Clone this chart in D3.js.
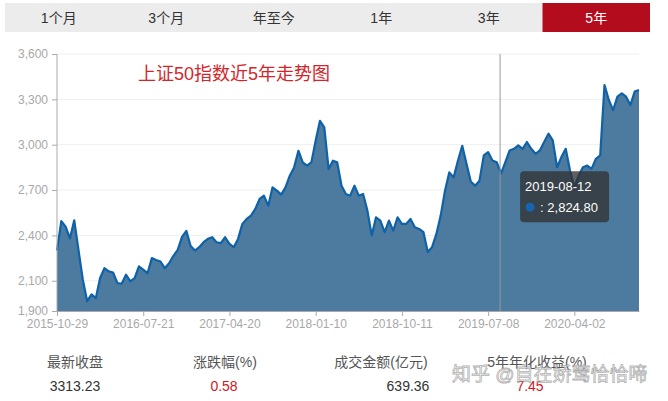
<!DOCTYPE html>
<html>
<head>
<meta charset="utf-8">
<script src="https://cdn.jsdelivr.net/npm/d3@7/dist/d3.min.js"></script>
<style>
  body { margin: 0; background: #fff; }
  svg { display: block; font-family: "Liberation Sans", "Noto Sans CJK SC", sans-serif; }
</style>
</head>
<body>
<div id="vis"></div>
<script>
// ---- data ----
var tabs = ["1个月", "3个月", "年至今", "1年", "3年", "5年"];
var activeTab = 5;
var title = "上证50指数近5年走势图";
var tickLabels = ["2015-10-29", "2016-07-21", "2017-04-20", "2018-01-10", "2018-10-11", "2019-07-08", "2020-04-02"];
var yTicks = [1900, 2100, 2400, 2700, 3000, 3300, 3600];
var STEP = 9;        // trading days between samples
var TICK_DAYS = 180; // trading days between date labels
var closes = [
  2300, 2495, 2458, 2380, 2500, 2300, 2105, 1965, 2010, 1985,
  2118, 2183, 2162, 2155, 2085, 2080, 2140, 2096, 2118, 2195,
  2173, 2150, 2250, 2238, 2227, 2183, 2216, 2265, 2304, 2390,
  2430, 2330, 2300, 2322, 2355, 2377, 2388, 2355, 2349, 2388,
  2344, 2322, 2377, 2476, 2509, 2531, 2575, 2641, 2663, 2597,
  2718, 2696, 2670, 2718, 2795, 2850, 2960, 2883, 2861, 2883,
  3026, 3158, 3114, 2840, 2894, 2883, 2729, 2674, 2663, 2729,
  2663, 2674, 2564, 2400, 2520, 2498, 2421, 2498, 2432, 2520,
  2476, 2476, 2509, 2454, 2443, 2421, 2290, 2322, 2410, 2531,
  2696, 2817, 2784, 2894, 2993, 2872, 2755, 2729, 2762, 2929,
  2951, 2896, 2884, 2810, 2884, 2962, 2973, 2996, 2973, 3018,
  2973, 2940, 2962, 3018, 3073, 3029, 2851, 2918, 2973, 2829,
  2720, 2796, 2851, 2862, 2840, 2907, 2929, 3395, 3296, 3229,
  3318, 3340, 3318, 3262, 3351, 3362
];
var tipDate = "2019-08-12", tipDay = 925, tipValue = 2824.80;
var statLabels = ["最新收盘", "涨跌幅(%)", "成交金额(亿元)", "5年年化收益(%)"];
var statValues = ["3313.23", "0.58", "639.36", "7.45"];
var statRed = [false, true, false, true];
var watermark = "知乎 @自在娇莺恰恰啼";

var width = 668, height = 401;
var plot = { left: 57, right: 639, top: 54, bottom: 311 };

var svg = d3.select("#vis").append("svg")
  .attr("width", width)
  .attr("height", height);

////////// tabs //////////
var tabX = d3.scaleBand().domain(d3.range(tabs.length)).range([5, 650]);
svg.append("rect").attr("x", 5).attr("y", 3).attr("width", 645).attr("height", 29).attr("fill", "#ececec");
svg.selectAll(".tab").data(tabs).enter().append("rect")
  .attr("x", function (d, i) { return tabX(i); })
  .attr("y", 3)
  .attr("width", tabX.bandwidth())
  .attr("height", 29)
  .attr("fill", function (d, i) { return i == activeTab ? "#b30d1d" : "none"; });
svg.selectAll(".tabtxt").data(tabs).enter().append("text")
  .attr("x", function (d, i) { return tabX(i) + tabX.bandwidth() / 2; })
  .attr("y", 23)
  .attr("text-anchor", "middle")
  .style("font-size", "14px")
  .style("fill", function (d, i) { return i == activeTab ? "#fff" : "#333"; })
  .text(function (d) { return d; });

////////// chart //////////
var x = d3.scaleLinear()
  .domain([0, (closes.length - 1) * STEP])
  .range([plot.left, plot.right]);
var y = d3.scaleLinear()
  .domain([1900, 3600])
  .range([plot.bottom, plot.top]);

var g = svg.append("g");

g.selectAll(".grid").data(yTicks.slice(1)).enter().append("line")
  .attr("x1", x.range()[0]).attr("x2", x.range()[1])
  .attr("y1", y).attr("y2", y)
  .attr("stroke", "#efefef");

var area = d3.area()
  .x(function (d, i) { return x(i * STEP); })
  .y0(y(1900))
  .y1(function (d) { return y(d); });
var line = d3.line()
  .x(function (d, i) { return x(i * STEP); })
  .y(function (d) { return y(d); });

g.append("path").datum(closes).attr("d", area).attr("fill", "#4c7b9f");
g.append("path").datum(closes).attr("d", line)
  .attr("fill", "none").attr("stroke", "#0f62a8").attr("stroke-width", 2.2).attr("stroke-linejoin", "round");

// axes
var yAxis = d3.axisLeft(y).tickValues(yTicks).tickFormat(d3.format(",")).tickSize(5).tickPadding(4);
var yg = g.append("g").attr("transform", "translate(" + x.range()[0] + ",0)").call(yAxis);
var xAxis = d3.axisBottom(x)
  .tickValues(tickLabels.map(function (d, i) { return i * TICK_DAYS; }))
  .tickFormat(function (d, i) { return tickLabels[i]; })
  .tickSize(5).tickPadding(3).tickSizeOuter(0);
var xg = g.append("g").attr("transform", "translate(0," + y(1900) + ")").call(xAxis);
[yg, xg].forEach(function (a) {
  a.select(".domain").attr("stroke", "#aaa");
  a.selectAll(".tick line").attr("stroke", "#aaa");
  a.selectAll("text").style("fill", "#a8a8a8").style("font-size", "12px").style("font-family", "inherit");
});
yg.select(".domain").attr("d", "M0," + y(1900) + "V" + y(3600));

// title
svg.append("text").attr("x", 138).attr("y", 80)
  .style("font-size", "18px").style("fill", "#d3262b")
  .text(title);

// crosshair + tooltip
var cx = x(tipDay), cy = y(tipValue);
g.append("line").attr("x1", cx).attr("x2", cx).attr("y1", y(3600)).attr("y2", y(1900))
  .attr("stroke", "#999").attr("stroke-width", 1);
var tip = svg.append("g").attr("transform", "translate(" + (cx + 20) + "," + cy + ")");
tip.append("rect").attr("width", 89).attr("height", 51).attr("rx", 4)
  .attr("fill", "rgba(50,50,50,0.78)");
tip.append("text").attr("x", 5).attr("y", 20).style("fill", "#fff").style("font-size", "13px").text(tipDate);
tip.append("circle").attr("cx", 10).attr("cy", 36).attr("r", 4.5).attr("fill", "#1565b0");
tip.append("text").attr("x", 20).attr("y", 41).style("fill", "#fff").style("font-size", "13px")
  .text(": " + d3.format(",.2f")(tipValue));

////////// stats //////////
var labelX = [75, 225, 381, 537];
var valueX = [75, 224, 408, 530];
svg.selectAll(".slab").data(statLabels).enter().append("text")
  .attr("x", function (d, i) { return labelX[i]; })
  .attr("y", 367).attr("text-anchor", "middle")
  .style("font-size", "14px").style("fill", "#555")
  .text(function (d) { return d; });
svg.selectAll(".sval").data(statValues).enter().append("text")
  .attr("x", function (d, i) { return valueX[i]; })
  .attr("y", 391).attr("text-anchor", "middle")
  .style("font-size", "14px")
  .style("fill", function (d, i) { return statRed[i] ? "#d0161f" : "#333"; })
  .text(function (d) { return d; });

// watermark
svg.append("text").attr("x", 452).attr("y", 381)
  .style("font-size", "19px").style("fill", "rgba(255,255,255,0.85)")
  .style("stroke", "rgba(120,120,120,0.6)").style("stroke-width", 0.8)
  .text(watermark);
</script>
</body>
</html>
